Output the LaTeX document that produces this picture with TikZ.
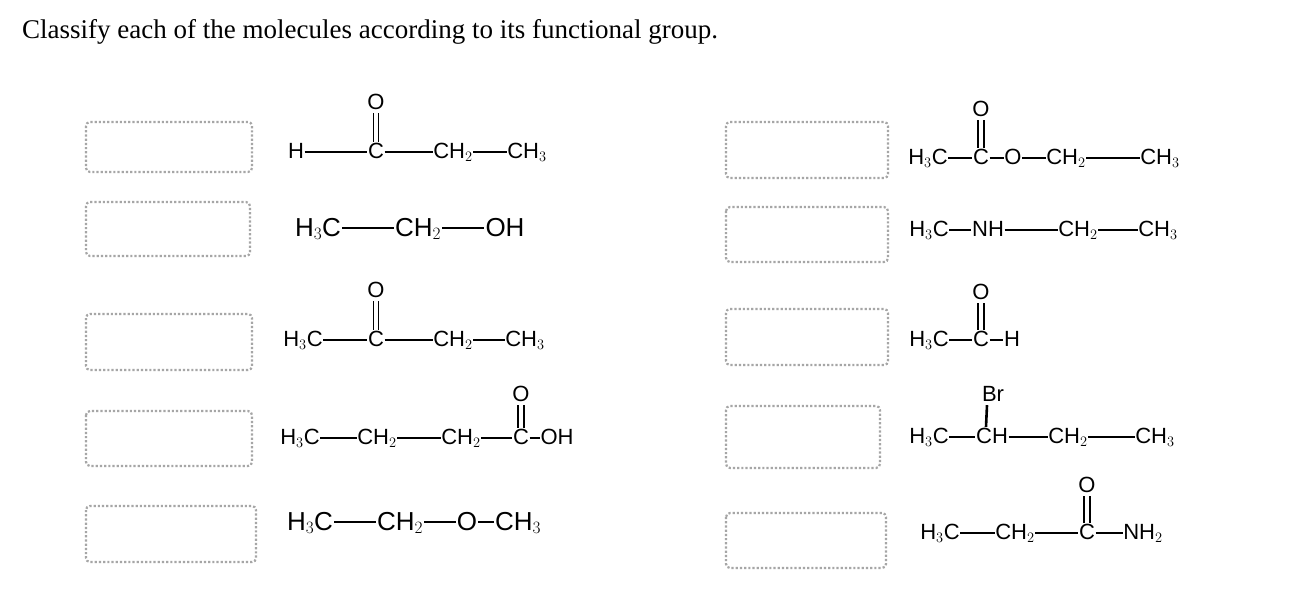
\documentclass[tikz,border=0pt]{standalone}
\usepackage{fontspec}
\setmainfont{Liberation Serif}
\newfontfamily\molfont{Liberation Sans}
\begin{document}
\begin{tikzpicture}[x=1pt,y=-1pt,
  box/.style={draw=gray!70,dotted,line width=2.2pt,rounded corners=4pt},
  atm/.style={font=\molfont\fontsize{22}{22}\selectfont,inner sep=0.5pt,text height=16pt,text depth=3pt},
  bat/.style={font=\molfont\fontsize{26}{26}\selectfont,inner sep=1pt,text height=19pt,text depth=3pt},
  bd/.style={line width=1.1pt},
  tb/.style={line width=2.6pt}]
\useasboundingbox (0,0) rectangle (1292,598);
\fill[white] (0,0) rectangle (1292,598);
\node[anchor=base west,font=\fontsize{27}{27}\selectfont,inner sep=0] (title) at (22,38) {Classify each of the molecules according to its functional group.};
% boxes left
\draw[box] (86,122) rectangle (252,172);
\draw[box] (86,202) rectangle (250,256);
\draw[box] (86,314) rectangle (252,370);
\draw[box] (86,411) rectangle (252,466);
\draw[box] (86,506) rectangle (256,562);
% boxes right
\draw[box] (726,122) rectangle (888,178);
\draw[box] (726,207) rectangle (888,262);
\draw[box] (726,309) rectangle (888,365);
\draw[box] (726,406) rectangle (880,468);
\draw[box] (726,513) rectangle (886,568);
% L1
\node[atm] (a1) at (296,152) {H};
\node[atm] (a2) at (376,152) {C};
\node[atm] (a3) at (453,152) {CH$_2$};
\node[atm] (a4) at (527,152) {CH$_3$};
\node[atm] (aO) at (376,103) {O};
\draw[bd] (a1)--(a2) (a2)--(a3) (a3)--(a4);
\draw[bd] ([xshift=-2.5pt]a2.north)--([xshift=-2.5pt]aO.south) ([xshift=2.5pt]a2.north)--([xshift=2.5pt]aO.south);
% L2
\node[bat] (b1) at (318,228) {H$_3$C};
\node[bat] (b2) at (418,228) {CH$_2$};
\node[bat] (b3) at (505,228) {OH};
\draw[tb] (b1)--(b2) (b2)--(b3);
% L3
\node[atm] (c1) at (303,340) {H$_3$C};
\node[atm] (c2) at (376,340) {C};
\node[atm] (c3) at (453,340) {CH$_2$};
\node[atm] (c4) at (525,340) {CH$_3$};
\node[atm] (cO) at (376,291) {O};
\draw[bd] (c1)--(c2) (c2)--(c3) (c3)--(c4);
\draw[bd] ([xshift=-2.5pt]c2.north)--([xshift=-2.5pt]cO.south) ([xshift=2.5pt]c2.north)--([xshift=2.5pt]cO.south);
% L4
\node[atm] (d1) at (300,438) {H$_3$C};
\node[atm] (d2) at (377,438) {CH$_2$};
\node[atm] (d3) at (461,438) {CH$_2$};
\node[atm] (d4) at (521,438) {C};
\node[atm] (d5) at (557,438) {OH};
\node[atm] (dO) at (521,395) {O};
\draw[tb] (d1)--(d2) (d2)--(d3) (d3)--(d4) (d4)--(d5);
\draw[tb] ([xshift=-3pt]d4.north)--([xshift=-3pt]dO.south) ([xshift=3pt]d4.north)--([xshift=3pt]dO.south);
% L5
\node[bat] (e1) at (310,522) {H$_3$C};
\node[bat] (e2) at (400,522) {CH$_2$};
\node[bat] (e3) at (467,522) {O};
\node[bat] (e4) at (518,522) {CH$_3$};
\draw[tb] (e1)--(e2) (e2)--(e3) (e3)--(e4);
% R1
\node[atm] (f1) at (928,158) {H$_3$C};
\node[atm] (f2) at (981,158) {C};
\node[atm] (f3) at (1013,158) {O};
\node[atm] (f4) at (1066,158) {CH$_2$};
\node[atm] (f5) at (1160,158) {CH$_3$};
\node[atm] (fO) at (981,110) {O};
\draw[tb] (f1)--(f2) (f2)--(f3) (f3)--(f4) (f4)--(f5);
\draw[tb] ([xshift=-3pt]f2.north)--([xshift=-3pt]fO.south) ([xshift=3pt]f2.north)--([xshift=3pt]fO.south);
% R2
\node[atm] (g1) at (929,230) {H$_3$C};
\node[atm] (g2) at (988,230) {NH};
\node[atm] (g3) at (1078,230) {CH$_2$};
\node[atm] (g4) at (1158,230) {CH$_3$};
\draw[tb] (g1)--(g2) (g2)--(g3) (g3)--(g4);
% R3
\node[atm] (h1) at (929,340) {H$_3$C};
\node[atm] (h2) at (981,340) {C};
\node[atm] (h3) at (1012,340) {H};
\node[atm] (hO) at (981,293) {O};
\draw[tb] (h1)--(h2) (h2)--(h3);
\draw[tb] ([xshift=-3pt]h2.north)--([xshift=-3pt]hO.south) ([xshift=3pt]h2.north)--([xshift=3pt]hO.south);
% R4
\node[atm] (i1) at (929,437) {H$_3$C};
\node[atm] (i2) at (992,437) {CH};
\node[atm] (i3) at (1068,437) {CH$_2$};
\node[atm] (i4) at (1155,437) {CH$_3$};
\node[atm] (iBr) at (993,395) {Br};
\draw[tb] (i1)--(i2) (i2)--(i3) (i3)--(i4);
\draw[tb] ([xshift=-6pt]i2.north)--([xshift=-6pt]iBr.south);
% R5
\node[atm] (j1) at (940,533) {H$_3$C};
\node[atm] (j2) at (1015,533) {CH$_2$};
\node[atm] (j3) at (1087,533) {C};
\node[atm] (j4) at (1143,533) {NH$_2$};
\node[atm] (jO) at (1087,486) {O};
\draw[tb] (j1)--(j2) (j2)--(j3) (j3)--(j4);
\draw[tb] ([xshift=-3pt]j3.north)--([xshift=-3pt]jO.south) ([xshift=3pt]j3.north)--([xshift=3pt]jO.south);
\end{tikzpicture}
\end{document}
